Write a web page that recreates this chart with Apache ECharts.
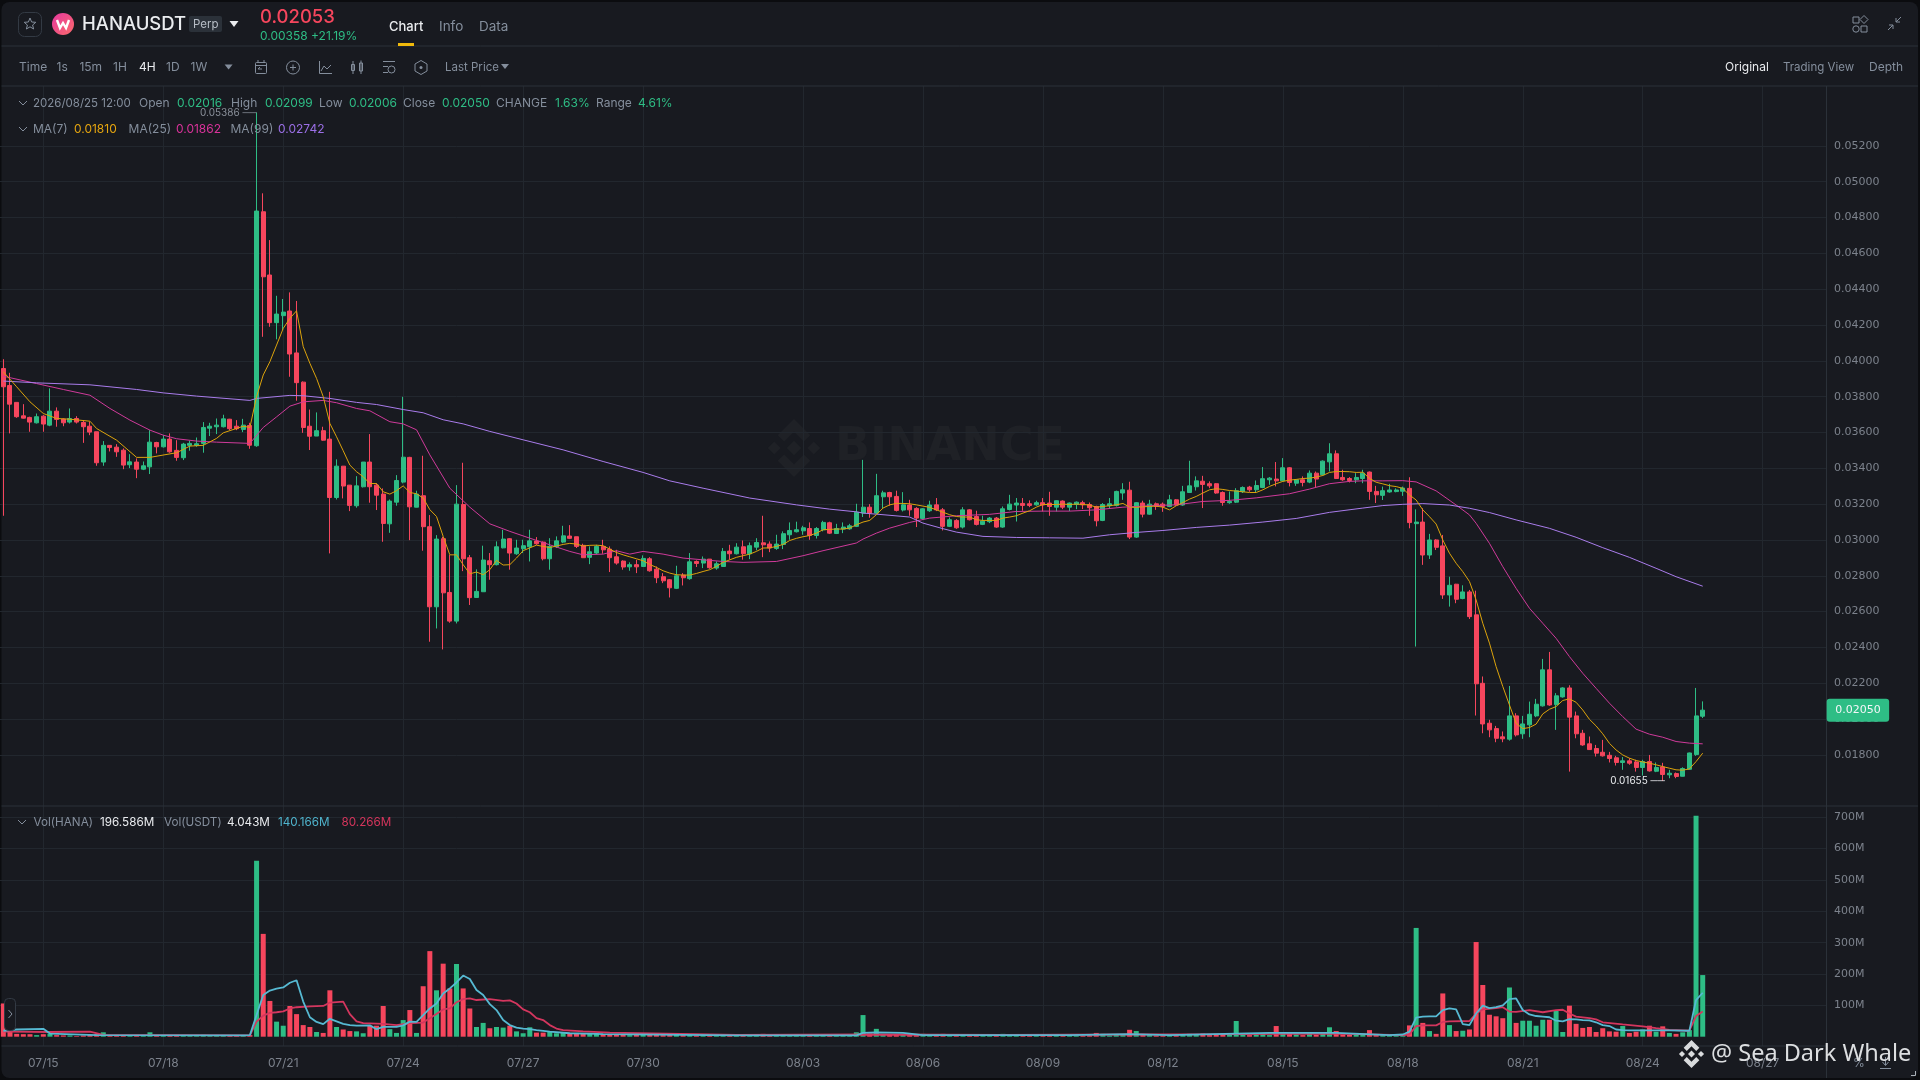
<!DOCTYPE html>
<html><head><meta charset="utf-8">
<style>html,body{margin:0;padding:0;background:#0b0c0f}#c{width:1920px;height:1080px}</style>
<script src="https://cdn.jsdelivr.net/npm/echarts@6/dist/echarts.min.js"></script>
</head><body><div id="c"></div>
<script>
const open_ = [
.03957,.03862,.03768,.03693,.03684,.03654,.03691,.03641,.03719,.03675,
.03658,.03678,.03656,.03635,.03604,.03435,.03528,.03518,.03501,.03420,
.03435,.03395,.03408,.03544,.03520,.03563,.03500,.03459,.03528,.03528,
.03539,.03624,.03632,.03632,.03674,.03635,.03617,.03639,.03526,.04832,
.04479,.04213,.04252,.04278,.04044,.03881,.03635,.03580,.03610,.03563,
.03237,.03412,.03306,.03191,.03297,.03435,.03306,.03256,.03090,.03211,
.03323,.03461,.03183,.03247,.03074,.02627,.03007,.02707,.02547,.03198,
.02901,.02679,.02711,.02884,.02862,.02956,.03007,.02923,.02951,.02962,
.02994,.02988,.02895,.02962,.02988,.03022,.03018,.02970,.02903,.02927,
.02964,.02949,.02906,.02882,.02850,.02862,.02852,.02895,.02837,.02795,
.02778,.02730,.02804,.02784,.02880,.02871,.02893,.02843,.02852,.02938,
.02923,.02962,.02923,.02960,.02984,.02977,.02953,.02975,.03029,.03046,
.03051,.03064,.03025,.03057,.03096,.03036,.03061,.03062,.03076,.03150,
.03183,.03150,.03241,.03265,.03243,.03167,.03195,.03176,.03120,.03163,
.03196,.03168,.03076,.03109,.03072,.03168,.03131,.03087,.03102,.03122,
.03072,.03170,.03195,.03204,.03202,.03196,.03208,.03206,.03183,.03217,
.03183,.03198,.03208,.03198,.03187,.03109,.03191,.03193,.03262,.03278,
.03016,.03206,.03144,.03202,.03200,.03187,.03224,.03195,.03265,.03297,
.03328,.03314,.03314,.03265,.03208,.03211,.03269,.03295,.03280,.03293,
.03336,.03340,.03330,.03403,.03317,.03336,.03323,.03373,.03364,.03436,
.03481,.03349,.03343,.03336,.03343,.03379,.03271,.03249,.03268,.03270,
.03272,.03288,.03091,.03100,.02916,.03000,.02967,.02693,.02753,.02673,
.02710,.02582,.02200,.01977,.01947,.01901,.01888,.02018,.01918,.01968,
.02018,.02074,.02275,.02081,.02124,.02174,.02018,.01921,.01862,.01836,
.01815,.01798,.01784,.01758,.01767,.01761,.01730,.01763,.01709,.01733,
.01689,.01696,.01681,.01720,.01802,.02016];
const close_ = [
.03855,.03758,.03688,.03680,.03658,.03688,.03647,.03719,.03673,.03654,
.03678,.03658,.03632,.03602,.03431,.03528,.03516,.03492,.03418,.03436,
.03395,.03414,.03546,.03520,.03563,.03492,.03461,.03535,.03539,.03537,
.03628,.03635,.03641,.03676,.03621,.03621,.03641,.03529,.04836,.04469,
.04213,.04261,.04272,.04038,.03878,.03628,.03579,.03610,.03557,.03237,
.03412,.03301,.03193,.03302,.03435,.03297,.03250,.03092,.03217,.03332,
.03462,.03185,.03256,.03074,.02627,.03005,.02705,.02547,.03200,.02895,
.02678,.02713,.02888,.02862,.02962,.03005,.02927,.02955,.02968,.02995,
.02979,.02895,.02964,.02995,.03023,.03009,.02964,.02901,.02934,.02964,
.02945,.02901,.02871,.02849,.02862,.02850,.02897,.02828,.02789,.02772,
.02733,.02800,.02789,.02878,.02869,.02893,.02845,.02867,.02936,.02923,
.02960,.02923,.02968,.02986,.02973,.02955,.02977,.03035,.03053,.03057,
.03068,.03025,.03064,.03098,.03038,.03064,.03072,.03079,.03155,.03183,
.03150,.03247,.03263,.03241,.03165,.03196,.03168,.03122,.03174,.03195,
.03168,.03076,.03113,.03068,.03168,.03113,.03087,.03105,.03122,.03072,
.03174,.03200,.03206,.03193,.03193,.03208,.03195,.03187,.03219,.03183,
.03206,.03211,.03196,.03180,.03107,.03198,.03202,.03271,.03280,.03016,
.03208,.03144,.03200,.03187,.03187,.03224,.03195,.03269,.03302,.03330,
.03310,.03302,.03262,.03209,.03215,.03275,.03293,.03280,.03304,.03342,
.03345,.03330,.03403,.03321,.03336,.03321,.03373,.03340,.03440,.03481,
.03343,.03336,.03332,.03349,.03373,.03271,.03252,.03275,.03279,.03279,
.03290,.03097,.03100,.02916,.03000,.02959,.02693,.02747,.02669,.02710,
.02572,.02197,.01973,.01940,.01893,.01890,.02018,.01912,.01973,.02027,
.02083,.02275,.02079,.02130,.02174,.02011,.01918,.01856,.01830,.01810,
.01795,.01780,.01758,.01767,.01754,.01730,.01763,.01711,.01730,.01691,
.01698,.01680,.01724,.01811,.02018,.02050];
const high_ = [
.04009,.03933,.03768,.03758,.03688,.03706,.03697,.03846,.03740,.03678,
.03734,.03691,.03669,.03660,.03604,.03552,.03528,.03535,.03511,.03479,
.03455,.03438,.03613,.03548,.03585,.03595,.03557,.03542,.03554,.03572,
.03658,.03654,.03678,.03699,.03676,.03669,.03676,.03654,.05386,.04935,
.04674,.04363,.04345,.04382,.04334,.03885,.03728,.03712,.03632,.03827,
.03450,.03412,.03306,.03356,.03435,.03591,.03316,.03288,.03226,.03362,
.03799,.03464,.03275,.03470,.03139,.03027,.03018,.02916,.03306,.03431,
.02916,.02836,.02968,.02927,.02992,.03057,.03010,.03001,.03001,.03057,
.03016,.02992,.03010,.03020,.03079,.03083,.03018,.02979,.02964,.02973,
.03001,.02964,.02945,.02886,.02875,.02889,.02914,.02904,.02852,.02815,
.02782,.02856,.02815,.02927,.02886,.02908,.02893,.02880,.02955,.02973,
.02982,.02997,.02986,.03010,.03135,.02992,.03029,.03048,.03098,.03102,
.03079,.03098,.03072,.03107,.03102,.03090,.03098,.03090,.03202,.03447,
.03200,.03369,.03275,.03269,.03275,.03267,.03224,.03183,.03178,.03219,
.03234,.03178,.03126,.03116,.03183,.03172,.03163,.03135,.03128,.03128,
.03187,.03252,.03234,.03234,.03221,.03219,.03234,.03269,.03221,.03221,
.03209,.03215,.03219,.03209,.03191,.03206,.03234,.03275,.03317,.03325,
.03211,.03219,.03224,.03209,.03209,.03252,.03228,.03302,.03442,.03355,
.03358,.03327,.03317,.03271,.03271,.03289,.03299,.03302,.03332,.03407,
.03351,.03435,.03457,.03407,.03336,.03355,.03388,.03382,.03444,.03540,
.03500,.03392,.03351,.03373,.03392,.03382,.03302,.03298,.03313,.03288,
.03298,.03350,.03171,.03177,.03034,.03004,.03028,.02795,.02755,.02747,
.02721,.02717,.02238,.01996,.01962,.01931,.02185,.02033,.02018,.02098,
.02113,.02336,.02375,.02145,.02178,.02189,.02042,.01940,.01903,.01856,
.01884,.01817,.01795,.01788,.01782,.01773,.01773,.01800,.01758,.01756,
.01717,.01702,.01731,.01813,.02174,.02099];
const low_ = [
.03135,.03595,.03682,.03678,.03604,.03650,.03604,.03635,.03632,.03635,
.03650,.03650,.03542,.03585,.03414,.03414,.03494,.03464,.03395,.03401,
.03345,.03390,.03368,.03483,.03516,.03487,.03442,.03446,.03498,.03520,
.03487,.03580,.03591,.03628,.03613,.03613,.03602,.03509,.03520,.04134,
.04190,.04120,.04172,.03911,.03777,.03598,.03502,.03580,.03554,.02925,
.03226,.03232,.03161,.03180,.03293,.03208,.03167,.02990,.03040,.03191,
.03316,.02999,.03182,.02940,.02432,.02506,.02389,.02538,.02534,.02826,
.02637,.02676,.02711,.02778,.02858,.02953,.02834,.02917,.02927,.02880,
.02973,.02886,.02834,.02955,.02982,.03005,.02955,.02901,.02865,.02921,
.02923,.02821,.02862,.02834,.02828,.02815,.02849,.02823,.02759,.02759,
.02679,.02726,.02746,.02778,.02849,.02843,.02839,.02834,.02849,.02890,
.02919,.02890,.02893,.02942,.02904,.02932,.02945,.02949,.03001,.03042,
.03029,.03001,.03008,.03048,.03033,.03033,.03038,.03057,.03072,.03128,
.03124,.03146,.03178,.03191,.03159,.03159,.03135,.03072,.03113,.03157,
.03161,.03053,.03072,.03062,.03064,.03109,.03081,.03083,.03094,.03068,
.03068,.03165,.03103,.03163,.03183,.03191,.03159,.03135,.03159,.03172,
.03161,.03172,.03172,.03135,.03076,.03105,.03178,.03187,.03224,.03005,
.03012,.03126,.03141,.03168,.03157,.03183,.03191,.03191,.03262,.03276,
.03178,.03289,.03258,.03191,.03202,.03206,.03262,.03269,.03262,.03289,
.03308,.03299,.03327,.03299,.03302,.03299,.03317,.03295,.03360,.03382,
.03340,.03330,.03321,.03317,.03317,.03224,.03206,.03223,.03264,.03266,
.03246,.03065,.02405,.02861,.02894,.02944,.02671,.02628,.02647,.02669,
.02559,.02020,.01921,.01899,.01871,.01871,.01880,.01903,.01890,.01899,
.02011,.02070,.02074,.01940,.02120,.01707,.01893,.01851,.01828,.01791,
.01791,.01758,.01741,.01717,.01745,.01707,.01685,.01707,.01704,.01655,
.01670,.01670,.01680,.01717,.01795,.02006];
const volumeM = [
106,16,9,8,8,5,8,10,5,4,
4,2,4,6,8,14,3,3,4,5,
4,3,14,4,3,4,3,4,3,2,
6,4,3,4,3,3,4,5,561,328,
114,48,35,98,72,37,31,15,12,148,
31,23,18,17,11,35,35,98,24,12,
53,85,12,161,273,148,233,154,232,154,
90,31,44,27,31,29,35,17,11,30,
13,13,16,11,14,11,10,9,10,9,
8,7,6,6,5,6,7,6,7,5,
7,6,5,8,4,5,5,6,6,5,
5,6,5,7,9,5,4,6,6,5,
4,5,5,6,5,4,4,4,14,69,
10,25,8,7,8,6,6,7,9,7,
6,9,5,6,8,5,5,4,3,5,
9,5,4,4,3,3,4,6,5,4,
4,3,3,5,12,9,4,8,6,22,
18,9,6,4,4,7,5,8,9,8,
10,5,7,9,6,50,6,5,8,9,
5,34,10,12,7,5,9,6,9,30,
18,7,6,6,7,21,8,6,5,5,
5,36,347,44,18,9,138,37,18,19,
23,302,165,70,65,59,157,44,51,51,
35,54,54,82,15,99,41,28,31,15,
27,17,16,34,12,16,23,35,16,33,
12,9,14,21,705,196.586];

const ma7 = [[0,.03939],[2,.03855],[4,.03771],[6,.03706],[8,.03678],[10,.03674],[13,.03663],[14,.03622],[17,.03557],[20,.03461],[22,.03461],[26,.03487],[28,.03524],[30,.03528],[32,.03567],[33,.03598],[36,.03635],[37,.03628],
[38,.03800],[39,.03921],[40,.03995],[41,.04088],[42,.04181],[43,.04237],[44,.04279],[45,.04079],[46,.03986],[47,.03902],[48,.03800],[49,.03650],[50,.03576],[51,.03498],[52,.03418],[53,.03381],[54,.03353],[55,.03315],[56,.03315],[57,.03269],[58,.03256],[59,.03275],
[60,.03302],[61,.03265],[62,.03258],[63,.03234],[64,.03169],[65,.03131],[66,.03020],[67,.02917],[68,.02917],[69,.02862],[70,.02811],[71,.02821],[72,.02806],[73,.02834],[74,.02886],[75,.02860],[76,.02862],[77,.02899],[78,.02940],[79,.02956],
[80,.02971],[81,.02964],[82,.02958],[83,.02966],[84,.02975],[85,.02981],[86,.02977],[87,.02966],[88,.02970],[89,.02971],[90,.02968],[91,.02949],[92,.02930],[93,.02917],[94,.02906],[95,.02895],[96,.02884],[97,.02863],[98,.02847],[99,.02828],
[100,.02815],[101,.02806],[102,.02804],[103,.02804],[104,.02813],[105,.02824],[106,.02834],[107,.02852],[108,.02875],[109,.02889],[110,.02903],[111,.02912],[112,.02921],[113,.02936],[114,.02955],[115,.02956],[116,.02964],[117,.02975],[118,.02997],[119,.03009],
[120,.03018],[121,.03025],[122,.03038],[123,.03057],[124,.03059],[125,.03061],[126,.03061],[127,.03066],[128,.03085],[129,.03100],[130,.03109],[131,.03141],[132,.03178],[133,.03196],[134,.03204],[135,.03204],[136,.03202],[137,.03196],[138,.03189],[139,.03182],
[140,.03168],[141,.03155],[142,.03141],[143,.03131],[144,.03128],[145,.03128],[146,.03113],[147,.03109],[148,.03109],[149,.03109],[150,.03122],[151,.03128],[152,.03135],[153,.03150],[154,.03163],[155,.03183],[156,.03198],[157,.03198],[158,.03198],[159,.03200],
[160,.03198],[161,.03200],[162,.03198],[163,.03195],[164,.03183],[165,.03187],[166,.03191],[167,.03196],[168,.03204],[169,.03183],[170,.03182],[171,.03185],[172,.03187],[173,.03189],[174,.03183],[175,.03168],[176,.03191],[177,.03209],[178,.03228],[179,.03243],
[180,.03262],[181,.03280],[182,.03286],[183,.03282],[184,.03276],[185,.03273],[186,.03269],[187,.03265],[188,.03265],[189,.03280],[190,.03299],[191,.03314],[192,.03327],[193,.03334],[194,.03338],[195,.03343],[196,.03345],[197,.03351],[198,.03360],[199,.03377],
[200,.03382],[201,.03382],[202,.03381],[203,.03377],[204,.03378],[205,.03344],[206,.03322],[207,.03313],[208,.03303],[209,.03298],[210,.03288],[211,.03251],[212,.03223],[213,.03168],[214,.03130],[215,.03089],[216,.03000],[217,.02926],[218,.02870],[219,.02823],
[220,.02768],[221,.02665],[222,.02535],[223,.02424],[224,.02293],[225,.02182],[226,.02079],[227,.01977],[228,.01947],[229,.01953],[230,.01972],[231,.02029],[232,.02055],[233,.02070],[234,.02104],[235,.02113],[236,.02094],[237,.02051],[238,.01999],[239,.01962],
[240,.01918],[241,.01865],[242,.01828],[243,.01800],[244,.01782],[245,.01769],[246,.01761],[247,.01754],[248,.01745],[249,.01735],[250,.01726],[251,.01717],[252,.01715],[253,.01722],[254,.01763],[255,.01810]];
const ma25 = [[0,.03914],[5,.03873],[9,.03840],[13,.03808],[16,.03734],[19,.03669],[22,.03613],[24,.03585],[26,.03565],[29,.03552],[32,.03546],[37,.03539],[39,.03628],[41,.03687],[43,.03747],[45,.03771],[48,.03779],[50,.03766],[53,.03734],[55,.03721],[58,.03660],[60,.03648],[62,.03615],[64,.03475],[67,.03289],[70,.03183],[73,.03090],[76,.03048],[79,.03010],[82,.02973],[85,.02936],[87,.02917],[90,.02921],[92,.02940],[94,.02921],[96,.02936],[99,.02921],[102,.02899],[105,.02889],[108,.02880],[111,.02875],[116,.02880],[120,.02912],[123,.02940],[128,.02983],[129,.03005],[131,.03038],[133,.03066],[136,.03098],[139,.03122],[143,.03135],[148,.03143],[152,.03159],[156,.03161],[160,.03161],[164,.03168],[168,.03183],[172,.03191],[176,.03196],[180,.03215],[184,.03221],[188,.03235],[193,.03258],[196,.03284],[199,.03314],[202,.03327],[204,.03330],[207,.03330],[210,.03331],[212,.03324],[215,.03274],[218,.03195],[220,.03140],[221,.03093],[223,.02981],[225,.02851],[227,.02730],[229,.02619],[231,.02535],[233,.02451],[235,.02349],[237,.02256],[239,.02172],[241,.02089],[243,.02014],[245,.01944],[247,.01916],[249,.01899],[251,.01875],[253,.01866],[255,.01862]];
const ma99 = [[0,.03887],[5,.03877],[13,.03866],[20,.03840],[24,.03821],[29,.03803],[37,.03779],[38,.03790],[43,.03807],[45,.03805],[49,.03790],[53,.03768],[56,.03756],[60,.03728],[63,.03710],[66,.03671],[69,.03648],[73,.03606],[78,.03559],[84,.03503],[90,.03438],[96,.03377],[100,.03330],[105,.03289],[112,.03234],[119,.03196],[124,.03172],[128,.03157],[129,.03150],[132,.03141],[136,.03128],[138,.03094],[141,.03063],[143,.03044],[147,.03020],[152,.03014],[157,.03012],[162,.03010],[166,.03029],[170,.03042],[174,.03053],[179,.03070],[184,.03083],[189,.03100],[194,.03120],[199,.03154],[204,.03178],[207,.03192],[210,.03199],[213,.03203],[217,.03195],[220,.03177],[223,.03153],[227,.03112],[232,.03065],[236,.03015],[240,.02957],[244,.02903],[248,.02842],[251,.02795],[255,.02742]];
const volMaBlue = [[0,19],[2,23],[6,25],[7,10],[14,5],[36,4],[37,5],[38,69],[39,133],[40,147],[41,153],[42,157],[43,172],[44,180],[45,112],[46,62],[47,47],[48,40],[49,57],[50,49],[51,41],[52,37],[53,35],[55,36],[56,24],[57,31],[59,31],[60,36],[61,48],[62,47],[63,69],[64,90],[65,106],[66,138],[67,154],[68,173],[69,195],[70,184],[71,149],[72,133],[73,104],[74,85],[75,53],[76,37],[77,29],[78,26],[79,24],[80,21],[82,16],[85,11],[89,9],[90,8],[110,4],[128,4],[129,12],[131,14],[135,12],[138,5],[160,5],[169,8],[175,5],[185,10],[190,12],[200,12],[208,5],[210,7],[211,16],[212,61],[213,64],[214,65],[215,65],[216,85],[217,90],[218,87],[219,40],[220,37],[221,74],[222,99],[223,91],[224,94],[225,100],[226,120],[227,122],[228,85],[229,71],[230,66],[231,64],[232,62],[233,51],[234,49],[235,56],[236,55],[237,53],[238,52],[239,46],[240,37],[241,34],[242,23],[243,21],[244,20],[246,20],[248,20],[250,20],[253,19],[254,117],[255,140.166]];
const volMaRed = [[0,16],[1,16],[7,15],[13,16],[15,6],[37,4],[38,48],[39,67],[40,76],[41,78],[42,81],[43,90],[44,94],[46,97],[48,98],[49,109],[51,112],[52,72],[53,49],[54,43],[57,41],[59,37],[61,43],[63,45],[64,59],[66,87],[67,90],[68,110],[69,120],[70,122],[71,117],[73,120],[75,114],[76,116],[77,106],[78,87],[79,78],[80,59],[81,53],[82,37],[83,26],[84,21],[87,17],[91,13],[110,6],[130,7],[150,6],[170,7],[185,8],[200,10],[210,5],[211,7],[212,34],[213,36],[215,36],[216,47],[217,49],[220,50],[221,74],[222,87],[224,91],[225,94],[226,80],[227,79],[229,85],[231,78],[233,85],[234,86],[235,74],[236,64],[238,59],[239,55],[240,46],[243,39],[246,33],[248,27],[250,22],[253,19],[254,66],[255,80.266]];

const priceTicks = [.018,.020,.022,.024,.026,.028,.030,.032,.034,.036,.038,.040,.042,.044,.046,.048,.050,.052];
const volumeTicks = [100,200,300,400,500,600,700];
const dateTicks = ['07/15','07/18','07/21','07/24','07/27','07/30','08/03','08/06','08/09','08/12','08/15','08/18','08/21','08/24','08/27'];

const GREEN='#2ebd85', RED='#f6465d', GRID='#22272e', SEP='#2b3139', GREY='#848e9c', DIM='#7c828c';

// 4-hour slots from the first candle; the last slots are empty space to the right of the data
const categories = [];
for (let i = 0; i < 274; i++) {
  const d = new Date(Date.UTC(2026, 6, 14, 4 * i));
  const p = n => String(n).padStart(2, '0');
  categories.push(p(d.getUTCMonth() + 1) + '/' + p(d.getUTCDate()) + ' ' + p(d.getUTCHours()) + ':00');
}
const isDateTick = (i, v) => v.endsWith('00:00') && dateTicks.includes(v.slice(0, 5));

const candleData = open_.map((o, i) => [o, close_[i], low_[i], high_[i]]);
const volData = volumeM.map((v, i) => ({ value: v, itemStyle: { color: close_[i] >= open_[i] ? GREEN : RED } }));
const lastClose = close_[close_.length - 1];

const FONT = 'Inter, "Noto Sans", sans-serif';
const g = [];
const T = (x, y, text, fill, size) => g.push({ type: 'text', x, y, silent: true, z: 50,
  style: { text, fill: fill || GREY, fontSize: size || 12, fontFamily: FONT, verticalAlign: 'middle', align: 'left' } });
const TB = (x, y, text, fill, size, weight) => { T(x, y, text, fill, size); g[g.length - 1].style.fontWeight = weight; };
const L = (x1, y1, x2, y2, c, w, z) => g.push({ type: 'line', silent: true, z: z === undefined ? 1 : z, shape: { x1, y1, x2, y2 }, style: { stroke: c || SEP, lineWidth: w || 1, fill: 'none' } });
const R = (x, y, w, h, r, fill, stroke, z) => g.push({ type: 'rect', silent: true, z: z === undefined ? 40 : z, shape: { x, y, width: w, height: h, r }, style: { fill: fill || 'none', stroke: stroke || 'none', lineWidth: 1 } });
const P = (pts, fill, stroke, z, lw) => g.push({ type: 'polygon', silent: true, z: z === undefined ? 40 : z, shape: { points: pts }, style: { fill: fill || 'none', stroke: stroke || 'none', lineWidth: lw || 1 } });
const PL = (pts, stroke, lw) => g.push({ type: 'polyline', silent: true, z: 40, shape: { points: pts }, style: { fill: 'none', stroke: stroke || GREY, lineWidth: lw || 1 } });
const C = (cx, cy, r, fill, stroke) => g.push({ type: 'circle', silent: true, z: 40, shape: { cx, cy, r }, style: { fill: fill || 'none', stroke: stroke || 'none', lineWidth: 1 } });
const chevron = (x, y) => PL([[x - 4, y - 2], [x, y + 2], [x + 4, y - 2]], GREY, 1);
const tri = (x, y, w, h, c) => P([[x - w / 2, y - h / 2], [x + w / 2, y - h / 2], [x, y + h / 2]], c, null);
function binance(cx, cy, s, fill, z) {
  const d = (x, y, r) => P([[cx + x, cy + y - r], [cx + x + r, cy + y], [cx + x, cy + y + r], [cx + x - r, cy + y]], fill, null, z);
  d(0, 0, s * .25); d(-s * .68, 0, s * .22); d(s * .68, 0, s * .22);
  P([[cx, cy - s], [cx + s * .56, cy - s * .44], [cx + s * .34, cy - s * .22], [cx, cy - s * .56], [cx - s * .34, cy - s * .22], [cx - s * .56, cy - s * .44]], fill, null, z);
  P([[cx, cy + s], [cx + s * .56, cy + s * .44], [cx + s * .34, cy + s * .22], [cx, cy + s * .56], [cx - s * .34, cy + s * .22], [cx - s * .56, cy + s * .44]], fill, null, z);
}

// frame
g.push({ type: 'rect', silent: true, z: -10, shape: { x: 1.5, y: 2, width: 1916.5, height: 1076, r: 8 }, style: { fill: '#181a20' } });
// watermark
binance(794, 448, 29, '#1f2126', -5);
g.push({ type: 'text', silent: true, z: -5, x: 835, y: 448, style: { text: 'BINANCE', fill: '#1f2126', fontSize: 46, fontWeight: 700, fontFamily: '"DejaVu Sans", sans-serif', verticalAlign: 'middle' } });
// separators
L(1.5, 46, 1918, 46); L(1.5, 86, 1918, 86); L(1.5, 806, 1918, 806); L(1.5, 1046, 1826, 1046); L(1826.5, 86, 1826.5, 1078);
// header
R(18.5, 12.5, 23, 24, 6, null, '#333a44');
P([[30,18],[31.6,22],[35.8,22.3],[32.6,25],[33.6,29],[30,26.8],[26.4,29],[27.4,25],[24.2,22.3],[28.4,22]], null, GREY);
g.push({ type: 'circle', silent: true, z: 40, shape: { cx: 63, cy: 24, r: 11 }, style: { fill: { type: 'linear', x: 0, y: 0, x2: 1, y2: 1, colorStops: [{ offset: 0, color: '#e6389f' }, { offset: 1, color: '#fb6a6a' }] } } });
PL([[57,20],[60,28],[63,23],[66,28],[69,20]], '#fff', 2.4);
TB(82, 24, 'HANAUSDT', '#eaecef', 18.5, 500);
R(189, 16, 33, 16, 2, '#2b3139');
T(193, 24.5, 'Perp', '#b7bdc6', 11.5);
tri(234, 24, 9, 6, '#eaecef');
TB(260, 17.5, '0.02053', RED, 18.5, 500);
T(260, 36.5, '0.00358 +21.19%', GREEN, 12);
TB(389, 27, 'Chart', '#eaecef', 13, 500);
T(439, 27, 'Info', GREY, 13.5); T(479, 27, 'Data', GREY, 13.5);
R(398, 43, 16, 3, 0, '#f0b90b');
// top right icons
R(1853, 17, 6, 6, 0, null, GREY); C(1856, 29, 3.2, null, GREY); P([[1864,15.5],[1868,19.5],[1864,23.5],[1860,19.5]], null, GREY); R(1861, 26, 6, 6, 0, null, GREY);
L(1888, 30, 1893, 25, GREY, 1, 40); L(1896, 22, 1901, 17, GREY, 1, 40);
PL([[1889, 25], [1893, 25], [1893, 29]], GREY); PL([[1896, 18], [1896, 22], [1900, 22]], GREY);
// toolbar
[['Time', 19], ['1s', 56.5], ['15m', 79.4], ['1H', 113], ['1D', 166], ['1W', 190.5]].forEach(a => T(a[1], 67.5, a[0], GREY, 12));
T(139, 67.5, '4H', '#eaecef', 12);
tri(228.6, 67, 8, 5, GREY);
R(255.5, 62.5, 11, 11, 1, null, GREY); L(255.5, 65.5, 266.5, 65.5, GREY, 1, 40); L(258, 60, 258, 62, GREY, 1, 40); L(264, 60, 264, 62, GREY, 1, 40); PL([[262,69],[258,69],[260,67]], GREY);
C(293, 67.5, 6.5, null, GREY); L(290, 67.5, 296, 67.5, GREY, 1, 40); L(293, 64.5, 293, 70.5, GREY, 1, 40);
PL([[319.5,61],[319.5,73.5],[332,73.5]], GREY); PL([[321,71],[324,66],[327,69],[331,65]], GREY);
R(351.5, 64.5, 3, 6, 0, null, GREY); L(353, 61, 353, 74, GREY, 1, 40); R(359.5, 63, 3, 8, 0, null, GREY); L(361, 60.5, 361, 74, GREY, 1, 40);
L(383, 61.5, 395, 61.5, GREY, 1, 40); L(383, 66.5, 388, 66.5, GREY, 1, 40); L(383, 72.5, 388, 72.5, GREY, 1, 40); C(391.5, 69.5, 3.5, null, GREY);
P([[421,60.5],[427,64],[427,71],[421,74.5],[415,71],[415,64]], null, GREY); C(421, 67.5, 1.5, GREY);
T(445, 67.5, 'Last Price', GREY, 11.5);
tri(505, 66.5, 8, 5, GREY);
T(1725, 67.5, 'Original', '#eaecef', 12);
T(1783, 67.5, 'Trading View', GREY, 11.5);
T(1869, 67.5, 'Depth', GREY, 12);
// OHLC legend
chevron(23, 103);
T(33, 103.5, '2026/08/25 12:00', GREY, 11.5);
[['Open', 139, GREY], ['0.02016', 177, GREEN], ['High', 231, GREY], ['0.02099', 265, GREEN], ['Low', 319, GREY], ['0.02006', 349, GREEN], ['Close', 403, GREY], ['0.02050', 442, GREEN], ['CHANGE', 496, GREY], ['1.63%', 555, GREEN], ['Range', 596, GREY], ['4.61%', 638, GREEN]].forEach(a => T(a[1], 103.5, a[0], a[2], 12));
chevron(23, 129);
[['MA(7)', 33, GREY], ['0.01810', 74, '#e5a50f'], ['MA(25)', 128.6, GREY], ['0.01862', 176, '#d9329a'], ['MA(99)', 230.5, GREY], ['0.02742', 278, '#9b6fe6']].forEach(a => T(a[1], 129, a[0], a[2], 12));
chevron(22, 822);
[['Vol(HANA)', 33.5, GREY], ['196.586M', 100, '#eaecef'], ['Vol(USDT)', 164, GREY], ['4.043M', 227, '#eaecef'], ['140.166M', 278, '#4fb3cc'], ['80.266M', 341.5, '#d5355c']].forEach(a => T(a[1], 822, a[0], a[2], 11.7));
// handle and corner controls
R(4.5, 998.5, 11, 32, 4, '#181a20', '#333a44');
PL([[8.5, 1010], [12, 1014], [8.5, 1018]], GREY);
T(1853, 1063, '%', GREY, 12);
L(1880, 1068.5, 1891, 1068.5, GREY, 1, 40); L(1885.5, 1057, 1885.5, 1065, GREY, 1, 40); PL([[1882.5, 1062], [1885.5, 1065.5], [1888.5, 1062]], GREY);
PL([[1911, 1075.5], [1915.5, 1075.5], [1915.5, 1071]], '#aab0b8');
// author overlay
binance(1691.5, 1054, 14, '#d9dbdd', 60);
g.push({ type: 'text', silent: true, z: 60, x: 1711, y: 1054, style: { text: '@ Sea Dark Whale', fill: '#dcdee0', fontSize: 23.5, fontFamily: '"Noto Sans", sans-serif', verticalAlign: 'middle' } });

const line = (name, data, color, width, xi, yi, z) => ({ name, type: 'line', data, xAxisIndex: xi, yAxisIndex: yi, symbol: 'none', smooth: false, z: z || 5, silent: true, animation: false, clip: true, lineStyle: { color, width } });

const chart = echarts.init(document.getElementById('c'), null, { renderer: 'canvas', width: 1920, height: 1080 });
chart.setOption({
  animation: false,
  backgroundColor: '#0b0c0f',
  textStyle: { fontFamily: FONT },
  grid: [
    { left: -0.667, right: 94, top: 86, height: 720, containLabel: false },
    { left: -0.667, right: 94, top: 806, height: 240, containLabel: false }
  ],
  xAxis: [
    { type: 'category', gridIndex: 0, data: categories, boundaryGap: true, axisLine: { show: false }, axisTick: { show: false }, axisLabel: { show: false },
      splitLine: { show: true, interval: isDateTick, alignWithLabel: true, lineStyle: { color: GRID, width: 1 } } },
    { type: 'category', gridIndex: 1, data: categories, boundaryGap: true, axisLine: { show: false }, axisTick: { show: false },
      axisLabel: { show: true, interval: isDateTick, color: DIM, fontSize: 12, margin: 11, formatter: v => v.slice(0, 5), hideOverlap: false },
      splitLine: { show: true, interval: isDateTick, alignWithLabel: true, lineStyle: { color: GRID, width: 1 } } }
  ],
  yAxis: [
    { type: 'value', gridIndex: 0, position: 'right', scale: true, min: 0.01515, max: 0.05534, axisLine: { show: false },
      axisTick: { show: false, customValues: priceTicks },
      axisLabel: { customValues: priceTicks, color: DIM, fontSize: 11, margin: 8, padding: [0, 0, 2, 0], fontFamily: '"DejaVu Sans", sans-serif', formatter: v => v.toFixed(5) },
      splitLine: { show: true, customValues: priceTicks, lineStyle: { color: GRID, width: 1 } } },
    { type: 'value', gridIndex: 1, position: 'right', min: -29.7, max: 736, axisLine: { show: false },
      axisTick: { show: false, customValues: volumeTicks },
      axisLabel: { customValues: volumeTicks, color: DIM, fontSize: 11, margin: 8, padding: [2, 0, 0, 0], fontFamily: '"DejaVu Sans", sans-serif', formatter: v => v + 'M' },
      splitLine: { show: true, customValues: volumeTicks, lineStyle: { color: GRID, width: 1 } } }
  ],
  graphic: { elements: g },
  series: [
    { name: 'HANAUSDT', type: 'candlestick', xAxisIndex: 0, yAxisIndex: 0, data: candleData, barWidth: 4.5, silent: true, z: 3, clip: false,
      itemStyle: { color: GREEN, color0: RED, borderColor: GREEN, borderColor0: RED, borderWidth: 1 },
      markPoint: { silent: true, symbol: 'circle', symbolSize: 0, animation: false, data: [
        { coord: [38, 0.05386], label: { show: true, position: 'left', distance: 0, formatter: '0.05386 ──', color: '#8b919b', fontSize: 10 } },
        { coord: [249, 0.01655], label: { show: true, position: 'left', distance: -2, formatter: '0.01655 ──', color: '#eaecef', fontSize: 10 } },
        { coord: [273, lastClose], label: { show: true, position: 'right', distance: 4, formatter: lastClose.toFixed(5), color: '#f4f6f8', fontSize: 11, fontFamily: '"DejaVu Sans", sans-serif', backgroundColor: GREEN, padding: [6, 8.5, 6, 8.5], borderRadius: 3 } }
      ] } },
    line('MA(7)', ma7, '#dca30c', 1, 0, 0, 6),
    line('MA(25)', ma25, '#cf3a9a', 1, 0, 0, 5),
    line('MA(99)', ma99, '#a97ceb', 1, 0, 0, 5),
    { name: 'Vol(HANA)', type: 'bar', xAxisIndex: 1, yAxisIndex: 1, data: volData, barWidth: 5, silent: true, z: 3 },
    line('Vol(HANA) MA', volMaBlue, '#56b9d2', 1.8, 1, 1, 6),
    line('Vol(USDT) MA', volMaRed, '#d4365e', 1.8, 1, 1, 5)
  ]
});
</script></body></html>
